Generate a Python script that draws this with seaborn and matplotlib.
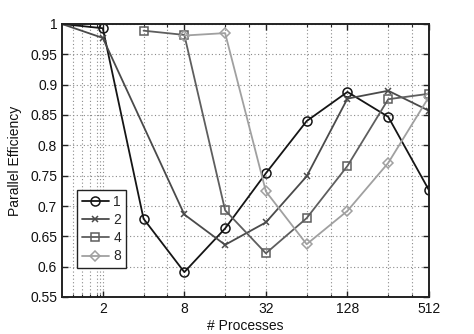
import matplotlib
matplotlib.use("Agg")
import matplotlib.pyplot as plt
import seaborn as sns
import pandas as pd
from matplotlib.ticker import FixedLocator, FuncFormatter, NullFormatter

sns.set_theme(style="white")
plt.rcParams['font.family'] = ['Liberation Sans', 'DejaVu Sans']

# Data
x1 = [1, 2, 4, 8, 16, 32, 64, 128, 256, 512]
y1 = [1.0, 0.993, 0.679, 0.591, 0.663, 0.754, 0.840, 0.888, 0.847, 0.726]
x2 = [1, 2, 8, 16, 32, 64, 128, 256, 512]
y2 = [1.0, 0.977, 0.686, 0.636, 0.673, 0.749, 0.877, 0.890, 0.857]
x4 = [4, 8, 16, 32, 64, 128, 256, 512]
y4 = [0.989, 0.982, 0.693, 0.622, 0.680, 0.766, 0.876, 0.885]
x8 = [8, 16, 32, 64, 128, 256, 512]
y8 = [0.981, 0.985, 0.724, 0.637, 0.692, 0.771, 0.880]
labels = ["1", "2", "4", "8"]
xticks = [2, 8, 32, 128, 512]
xminor = [1.2, 1.4, 1.6, 1.8, 1.9, 4, 6, 16, 24, 64, 96, 256, 384]
yticks = [0.55, 0.6, 0.65, 0.7, 0.75, 0.8, 0.85, 0.9, 0.95, 1.0]

fig = plt.figure(figsize=(4.74, 3.34), dpi=100)
ax = fig.add_axes([62/474, 1-297/334, (429-62)/474, (297-24)/334])

series = [
    (x1, y1, labels[0], "#151515", "o", 6.5, 1.3),
    (x2, y2, labels[1], "#4a4a4a", "x", 4.5, 1.3),
    (x4, y4, labels[2], "#5e5e5e", "s", 6.0, 1.3),
    (x8, y8, labels[3], "#a0a0a0", "D", 5.5, 1.3),
]
for xs, ys, lab, col, mk, ms, lw in series:
    df = pd.DataFrame({"x": xs, "y": ys})
    me = list(range(1, len(xs))) if xs[0] == 1 else None
    sns.lineplot(data=df, x="x", y="y", ax=ax, color=col, marker=mk,
                 markersize=ms, linewidth=lw, markerfacecolor="none",
                 markeredgecolor=col, markeredgewidth=1.1, markevery=me,
                 label=lab, sort=False, errorbar=None)

ax.set_xscale("log", base=2)
ax.set_xlim(1, 512)
ax.set_ylim(0.55, 1.0)
ax.xaxis.set_major_locator(FixedLocator(xticks))
ax.xaxis.set_major_formatter(FuncFormatter(lambda v, p: "%d" % v))
ax.xaxis.set_minor_locator(FixedLocator(xminor))
ax.xaxis.set_minor_formatter(NullFormatter())
ax.yaxis.set_major_locator(FixedLocator(yticks))
ax.yaxis.set_major_formatter(FuncFormatter(lambda v, p: "%g" % round(v, 2)))

gkw = dict(linestyle=(0, (1, 2.2)), color="#8a8a8a", linewidth=0.8)
ax.grid(True, which="major", **gkw)
ax.grid(True, which="minor", axis="x", **gkw)
ax.set_axisbelow(True)

for s in ax.spines.values():
    s.set_visible(True)
    s.set_color("#222222")
    s.set_linewidth(1.4)

ax.tick_params(axis="both", which="major", direction="in", length=4, width=1,
               colors="#222222", labelsize=10, top=True, right=True, bottom=True, left=True,
               labelcolor="#111111")
ax.tick_params(axis="x", which="minor", direction="in", length=2.5, width=0.8,
               top=True, bottom=True)

ax.set_xlabel("# Processes", fontsize=10, color="#111111", labelpad=2)
ax.set_ylabel("Parallel Efficiency", fontsize=10, color="#111111", labelpad=6)

leg = ax.legend(loc="lower left", bbox_to_anchor=(0.04, 0.105), fontsize=10,
                frameon=True, fancybox=False, framealpha=1, edgecolor="#222222",
                handlelength=2.0, handletextpad=0.3, borderpad=0.35, labelspacing=0.3,
                borderaxespad=0)
leg.get_frame().set_linewidth(1.0)

fig.savefig("out.png", dpi=100)
